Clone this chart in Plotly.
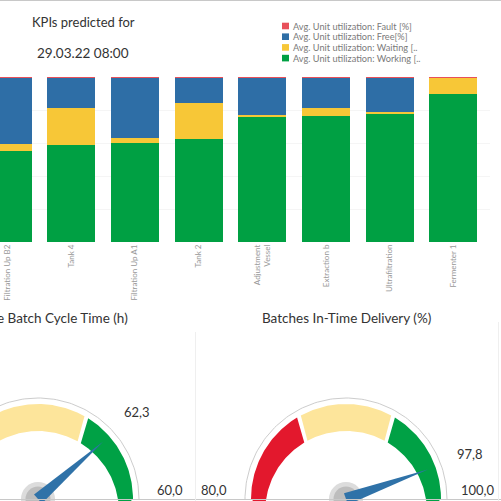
import math
import plotly.graph_objects as go

# ---------------- data ----------------
categories = ["Filtration Up B2", "Tank 4", "Filtration Up A1", "Tank 2",
              "Adjustment<br>Vessel", "Extraction b", "Ultrafiltration", "Fermenter 1"]
working = [55.3, 59.0, 60.2, 62.6, 75.9, 76.2, 77.6, 89.5]
waiting = [4.0, 22.4, 3.0, 21.8, 1.2, 4.8, 1.2, 10.1]
free = [40.3, 18.2, 36.4, 15.2, 22.5, 18.6, 20.8, 0.0]
fault = [0.4, 0.4, 0.4, 0.4, 0.4, 0.4, 0.4, 0.4]

series_names = ["Avg. Unit utilization: Working [%]", "Avg. Unit utilization: Waiting [%]",
                "Avg. Unit utilization: Free[%]", "Avg. Unit utilization: Fault [%]"]
legend_labels = ["Avg. Unit utilization: Fault [%]", "Avg. Unit utilization: Free[%]",
                 "Avg. Unit utilization: Waiting [..", "Avg. Unit utilization: Working [.."]

title_line1 = "KPIs predicted for"
title_line2 = "29.03.22 08:00"

gauge_titles = ["Average Batch Cycle Time (h)", "Batches In-Time Delivery (%)"]
gauge_values = [62.3, 97.8]
gauge_left = [70.0, 80.0]     # value at the left end of the dial
gauge_right = [60.0, 100.0]   # value at the right end of the dial
gauge_steps = [[70.0, 66.7, 63.3, 60.0], [80.0, 86.7, 93.3, 100.0]]

# ---------------- styles ----------------
C_GREEN, C_YELLOW, C_BLUE, C_RED = "#00a043", "#f7c737", "#2e6ea6", "#e8505a"
STEP_COLORS = ["#e3182d", "#fde59b", "#00a145"]
NEEDLE = "#2f72a8"
FONT = "Lato"
W = H = 501

fig = go.Figure()

# ---------------- stacked bars ----------------
for vals, name, col in zip([working, waiting, free, fault], series_names,
                           [C_GREEN, C_YELLOW, C_BLUE, C_RED]):
    fig.add_trace(go.Bar(x=categories, y=vals, name=name, marker_color=col,
                         marker_line_width=0, showlegend=False,
                         xaxis="x", yaxis="y"))

# bar layout in px
bar_c0, bar_step, plot_right = 7.5, 63.7, 490
x_lo = -bar_c0 / bar_step
x_hi = (plot_right - bar_c0) / bar_step
bar_top_px, bar_bot_px = 77, 242

# ---------------- gauges (lower subplot in pixel-like units) ----------------
LOW_TOP = 300
def ypx(py):
    return H - py

centers = [(38.0, ypx(499)), (346.0, ypx(499))]
title_dx = [4.0, 0.0]
R_OUT, R_IN, IN_SHIFT, R_RIM = 95.0, 81.0, 13.0, 101.0
GAP = 1.3

def angle_of(v, left, right):
    frac = (v - left) / (right - left)
    return 180.0 * (1.0 - frac)

def arc(cx, cy, r, a0, a1, n=60):
    pts = []
    for k in range(n + 1):
        a = math.radians(a0 + (a1 - a0) * k / n)
        pts.append((cx + r * math.cos(a), cy + r * math.sin(a)))
    return pts

fmt = lambda v: f"{v:.1f}".replace(".", ",")

for gi in range(2):
    cx, cy = centers[gi]
    left, right = gauge_left[gi], gauge_right[gi]
    steps = gauge_steps[gi]
    # rim
    rim = arc(cx, cy, R_RIM, 0, 180, 120)
    fig.add_trace(go.Scatter(x=[p[0] for p in rim], y=[p[1] for p in rim], mode="lines",
                             line=dict(color="#cdcdcd", width=1), hoverinfo="skip",
                             showlegend=False, xaxis="x2", yaxis="y2"))
    # colored bands
    for si in range(3):
        a0 = angle_of(steps[si], left, right)
        a1 = angle_of(steps[si + 1], left, right)
        if si > 0:
            a0 -= GAP
        if si < 2:
            a1 += GAP
        outer = arc(cx, cy, R_OUT, a0, a1)
        inner = arc(cx, cy - IN_SHIFT, R_IN, a1, a0)
        pts = outer + inner + [outer[0]]
        fig.add_trace(go.Scatter(x=[p[0] for p in pts], y=[p[1] for p in pts],
                                 mode="lines", fill="toself", fillcolor=STEP_COLORS[si],
                                 line=dict(width=0, color=STEP_COLORS[si]),
                                 hoverinfo="skip", showlegend=False,
                                 xaxis="x2", yaxis="y2"))
    # hub
    fig.add_trace(go.Scatter(x=[cx], y=[cy], mode="markers",
                             marker=dict(size=34, color="#dcdcdc", line=dict(width=0)),
                             hoverinfo="skip", showlegend=False, xaxis="x2", yaxis="y2"))
    fig.add_trace(go.Scatter(x=[cx], y=[cy], mode="markers",
                             marker=dict(size=25, color="#bdbdbd", line=dict(width=0)),
                             hoverinfo="skip", showlegend=False, xaxis="x2", yaxis="y2"))
    # needle
    th = angle_of(gauge_values[gi], left, right)
    t = math.radians(th)
    b1, b2 = math.radians(th + 90), math.radians(th - 90)
    nx = [cx + 6 * math.cos(b1), cx + 87 * math.cos(t), cx + 6 * math.cos(b2), cx + 6 * math.cos(b1)]
    ny = [cy + 6 * math.sin(b1), cy + 87 * math.sin(t), cy + 6 * math.sin(b2), cy + 6 * math.sin(b1)]
    fig.add_trace(go.Scatter(x=nx, y=ny, mode="lines", fill="toself", fillcolor=NEEDLE,
                             line=dict(width=0, color=NEEDLE), hoverinfo="skip",
                             showlegend=False, xaxis="x2", yaxis="y2"))
    fig.add_annotation(x=cx + 132 * math.cos(t), y=cy + 132 * math.sin(t), xref="x2", yref="y2",
                       xanchor="center", yanchor="middle",
                       text=fmt(gauge_values[gi]), showarrow=False,
                       font=dict(family=FONT, size=13, color="#333333"))
    fig.add_annotation(x=cx - 132, y=cy + 9, xref="x2", yref="y2", text=fmt(left),
                       xanchor="center", yanchor="middle",
                       showarrow=False, font=dict(family=FONT, size=13, color="#333333"))
    fig.add_annotation(x=cx + 132, y=cy + 9, xref="x2", yref="y2", text=fmt(right),
                       xanchor="center", yanchor="middle",
                       showarrow=False, font=dict(family=FONT, size=13, color="#333333"))
    fig.add_annotation(x=cx + title_dx[gi], y=ypx(318), xref="x2", yref="y2",
                       xanchor="center", yanchor="middle", text=gauge_titles[gi],
                       showarrow=False, font=dict(family=FONT, size=13.5, color="#333333"))

# ---------------- titles & legend ----------------
def py2paper(py):
    return 1 - py / H

fig.add_annotation(x=30 / W, y=py2paper(22), xref="paper", yref="paper", xanchor="left",
                   yanchor="middle", text=title_line1, showarrow=False,
                   font=dict(family=FONT, size=13, color="#333333"))
fig.add_annotation(x=35 / W, y=py2paper(53), xref="paper", yref="paper", xanchor="left",
                   yanchor="middle", text=title_line2, showarrow=False,
                   font=dict(family=FONT, size=13.5, color="#333333"))

shapes = []
legend_cols = [C_RED, C_BLUE, C_YELLOW, C_GREEN]
for i, (lab, col) in enumerate(zip(legend_labels, legend_cols)):
    yc = 26 + i * 10.7
    shapes.append(dict(type="rect", xref="paper", yref="paper", x0=282 / W, x1=289 / W,
                       y0=py2paper(yc + 3.3), y1=py2paper(yc - 3.3),
                       fillcolor=col, line=dict(width=0)))
    fig.add_annotation(x=292 / W, y=py2paper(yc), xref="paper", yref="paper", xanchor="left",
                       yanchor="middle", text=lab, showarrow=False, borderpad=0,
                       font=dict(family=FONT, size=9.2, color="#7a7a7a"))

# dividers
shapes += [
    dict(type="line", xref="paper", yref="paper", x0=0, x1=1, y0=py2paper(0.5), y1=py2paper(0.5),
         line=dict(color="#c8c8c8", width=1)),
    dict(type="line", xref="paper", yref="paper", x0=0, x1=1, y0=py2paper(499.5), y1=py2paper(499.5),
         line=dict(color="#c8c8c8", width=1)),
    dict(type="line", xref="paper", yref="paper", x0=195.5 / W, x1=195.5 / W,
         y0=py2paper(332), y1=0, line=dict(color="#efefef", width=1)),
    dict(type="line", xref="paper", yref="paper", x0=498.5 / W, x1=498.5 / W,
         y0=py2paper(322), y1=0, line=dict(color="#efefef", width=1)),
]

fig.update_layout(
    width=W, height=H, margin=dict(l=0, r=0, t=0, b=0),
    paper_bgcolor="white", plot_bgcolor="white",
    barmode="stack", bargap=1 - 48 / bar_step,
    showlegend=False, shapes=shapes,
    font=dict(family=FONT),
    xaxis=dict(domain=[0, plot_right / W], range=[x_lo, x_hi], type="category",
               tickangle=-90, tickfont=dict(family=FONT, size=8, color="#999999"),
               showline=False, ticks="", showgrid=False, fixedrange=True),
    yaxis=dict(domain=[py2paper(bar_bot_px), py2paper(bar_top_px)], range=[0, 100],
               showticklabels=False, showgrid=True, gridcolor="#f5f5f5", dtick=20,
               zeroline=False, fixedrange=True),
    xaxis2=dict(domain=[0, 1], range=[0, W], visible=False, fixedrange=True),
    yaxis2=dict(domain=[0, (H - LOW_TOP) / H], range=[0, H - LOW_TOP], visible=False,
                fixedrange=True),
)

fig.write_html("out.html")
